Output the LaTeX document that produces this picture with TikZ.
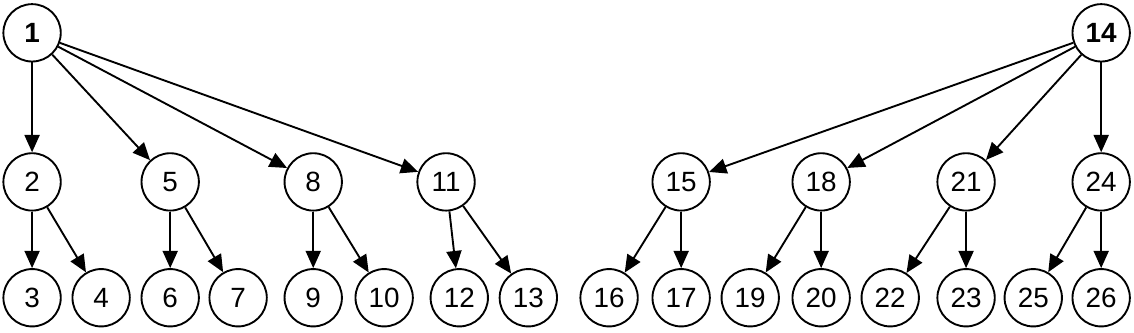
\documentclass[tikz,border=0pt]{standalone}
\usepackage{fontspec}
\setmainfont{Liberation Sans}
\usepackage{tikz}
\usetikzlibrary{positioning,arrows.meta,calc}

\begin{document}
\begin{tikzpicture}[>={Triangle[length=0.46cm,width=0.4cm]},on grid,
    vtx/.style={draw,circle,line width=0.05cm,inner sep=0pt,minimum size=1.52cm,font=\fontsize{21}{24}\selectfont},
    root/.style={vtx,font=\fontsize{21}{24}\selectfont\bfseries},
    edge/.style={->,line width=0.05cm}]
    % roots
    \node[root] (n1) {1};
    \node[root,right=28.33cm of n1] (n14) {14};
    \useasboundingbox ($(n1.center)+(-0.85,0.87)$) rectangle ($(n1.center)+(29.2,-7.93)$);
    % left tree
    \node[vtx,below=3.95cm of n1] (n2) {2};
    \node[vtx,right=3.66cm of n2] (n5) {5};
    \node[vtx,right=3.79cm of n5] (n8) {8};
    \node[vtx,right=3.52cm of n8] (n11) {11};
    \node[vtx,below=3.07cm of n2] (n3) {3};
    \node[vtx,right=1.83cm of n3] (n4) {4};
    \node[vtx,below=3.07cm of n5] (n6) {6};
    \node[vtx,right=1.80cm of n6] (n7) {7};
    \node[vtx,below=3.07cm of n8] (n9) {9};
    \node[vtx,right=1.88cm of n9] (n10) {10};
    \node[vtx,right=1.99cm of n10] (n12) {12};
    \node[vtx,right=1.83cm of n12] (n13) {13};
    % right tree
    \node[vtx,below=3.95cm of n14] (n24) {24};
    \node[vtx,left=3.58cm of n24] (n21) {21};
    \node[vtx,left=3.84cm of n21] (n18) {18};
    \node[vtx,left=3.71cm of n18] (n15) {15};
    \node[vtx,below=3.07cm of n15] (n17) {17};
    \node[vtx,left=1.91cm of n17] (n16) {16};
    \node[vtx,below=3.07cm of n18] (n20) {20};
    \node[vtx,left=1.88cm of n20] (n19) {19};
    \node[vtx,below=3.07cm of n21] (n23) {23};
    \node[vtx,left=2.01cm of n23] (n22) {22};
    \node[vtx,below=3.07cm of n24] (n26) {26};
    \node[vtx,left=1.80cm of n26] (n25) {25};
    % edges
    \foreach \a/\b in {n1/n2,n1/n5,n1/n8,n1/n11,n2/n3,n2/n4,n5/n6,n5/n7,n8/n9,n8/n10,n11/n12,n11/n13,
      n14/n15,n14/n18,n14/n21,n14/n24,n15/n16,n15/n17,n18/n19,n18/n20,n21/n22,n21/n23,n24/n25,n24/n26}
      \draw[edge] (\a)--(\b);
  \end{tikzpicture}
\end{document}
